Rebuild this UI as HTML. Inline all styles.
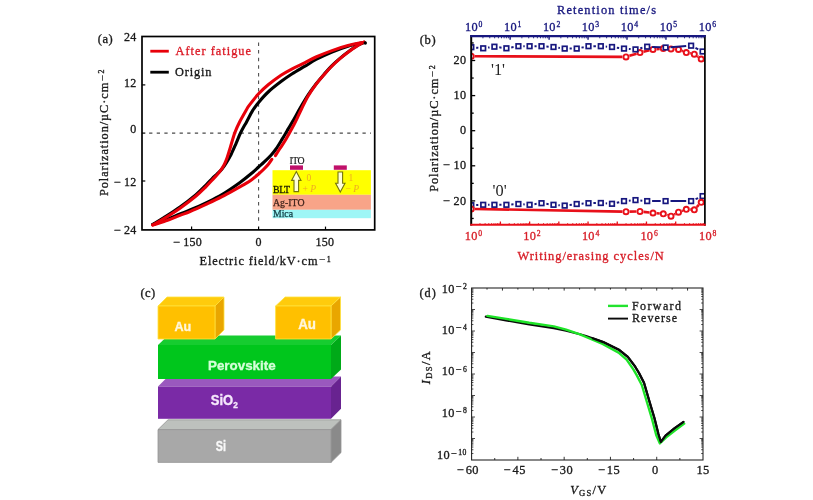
<!DOCTYPE html>
<html lang="en"><head><meta charset="utf-8"><title>Figure</title>
<style>
html,body{margin:0;padding:0;background:#fff;}
body{width:813px;height:500px;overflow:hidden;font-family:"Liberation Serif", serif;}
svg{display:block;}
text{white-space:pre;}
</style></head><body>
<svg width="813" height="500" viewBox="0 0 813 500">
<rect x="0" y="0" width="813" height="500" fill="#ffffff"/>
<line x1="258.6" y1="42.5" x2="258.6" y2="220.9" stroke="#4a4a4a" stroke-width="1.05" stroke-dasharray="3.5 4.1"/>
<line x1="149.1" y1="133.1" x2="371.0" y2="133.1" stroke="#4a4a4a" stroke-width="1.05" stroke-dasharray="3.3 4.32"/>
<rect x="272.5" y="170.2" width="98.4" height="24.6" fill="#ffff00"/>
<rect x="272.5" y="194.8" width="98.4" height="15" fill="#f8a488"/>
<rect x="272.5" y="209.8" width="98.4" height="8.4" fill="#9ef6f6"/>
<rect x="290" y="165.4" width="13" height="4.4" fill="#c0106a"/>
<rect x="333.8" y="165.4" width="13" height="4.4" fill="#c0106a"/>
<path d="M296.3,171.6 L301,180.4 L298.6,180.4 L298.6,191.6 L294,191.6 L294,180.4 L291.6,180.4 Z" fill="#ffffd8" stroke="#74740a" stroke-width="1.1"/>
<path d="M340.3,192 L345,183.2 L342.6,183.2 L342.6,172 L338,172 L338,183.2 L335.6,183.2 Z" fill="#ffffd8" stroke="#74740a" stroke-width="1.1"/>
<text x="289.5" y="163.8" font-size="9.8" fill="#1a1a1a" font-family='"Liberation Serif", serif' textLength="15" lengthAdjust="spacing" stroke="#1a1a1a" stroke-width="0.15">ITO</text>
<text x="273" y="193.0" font-size="9.8" fill="#1c1c00" font-family='"Liberation Serif", serif' textLength="17" lengthAdjust="spacing" stroke="#1c1c00" stroke-width="0.3">BLT</text>
<text x="273" y="206.0" font-size="9.8" fill="#40241c" font-family='"Liberation Serif", serif' textLength="31.5" lengthAdjust="spacing" stroke="#40241c" stroke-width="0.25">Ag-ITO</text>
<text x="273" y="216.9" font-size="9.8" fill="#123c44" font-family='"Liberation Serif", serif' textLength="20" lengthAdjust="spacing" stroke="#123c44" stroke-width="0.25">Mica</text>
<text x="306.5" y="180.5" font-size="9.5" fill="#eeaa22" font-family='"Liberation Serif", serif'>0</text>
<text x="302.5" y="192.2" font-size="9.5" fill="#eeaa22" font-family='"Liberation Serif", serif'>+</text>
<text x="310.2" y="192.2" font-size="9.5" fill="#eeaa22" font-family='"Liberation Serif", serif' font-style="italic">P</text>
<text x="348.5" y="180.5" font-size="9.5" fill="#eeaa22" font-family='"Liberation Serif", serif'>1</text>
<text x="345.5" y="192.2" font-size="9.5" fill="#eeaa22" font-family='"Liberation Serif", serif'>−</text>
<text x="353.2" y="192.2" font-size="9.5" fill="#eeaa22" font-family='"Liberation Serif", serif' font-style="italic">P</text>
<path d="M152.80,224.40 C154.67,223.27 159.47,220.50 164.00,217.60 C168.53,214.70 174.67,210.83 180.00,207.00 C185.33,203.17 191.67,198.27 196.00,194.60 C200.33,190.93 203.33,187.63 206.00,185.00 C208.67,182.37 210.17,180.63 212.00,178.80 C213.83,176.97 215.33,175.63 217.00,174.00 C218.67,172.37 220.43,170.90 222.00,169.00 C223.57,167.10 224.87,165.07 226.40,162.60 C227.93,160.13 229.60,157.37 231.20,154.20 C232.80,151.03 234.43,147.17 236.00,143.60 C237.57,140.03 238.80,136.50 240.60,132.80 C242.40,129.10 244.80,125.10 246.80,121.40 C248.80,117.70 250.63,113.77 252.60,110.60 C254.57,107.43 256.00,105.50 258.60,102.40 C261.20,99.30 264.47,95.47 268.20,92.00 C271.93,88.53 277.00,84.63 281.00,81.60 C285.00,78.57 288.20,76.37 292.20,73.80 C296.20,71.23 301.03,68.58 305.00,66.20 C308.97,63.82 311.50,61.87 316.00,59.50 C320.50,57.13 326.67,54.22 332.00,52.00 C337.33,49.78 342.67,47.80 348.00,46.20 C353.33,44.60 361.33,43.03 364.00,42.40 " stroke="#000" stroke-width="3.1" fill="none" stroke-linecap="round" stroke-linejoin="round"/>
<path d="M364.00,42.40 C362.67,43.07 358.67,44.80 356.00,46.40 C353.33,48.00 350.67,50.00 348.00,52.00 C345.33,54.00 342.67,56.13 340.00,58.40 C337.33,60.67 334.67,62.93 332.00,65.60 C329.33,68.27 326.67,71.33 324.00,74.40 C321.33,77.47 318.67,80.53 316.00,84.00 C313.33,87.47 310.67,91.13 308.00,95.20 C305.33,99.27 302.42,104.27 300.00,108.40 C297.58,112.53 295.67,116.23 293.50,120.00 C291.33,123.77 288.92,127.77 287.00,131.00 C285.08,134.23 283.83,136.40 282.00,139.40 C280.17,142.40 277.80,146.40 276.00,149.00 C274.20,151.60 273.20,152.80 271.20,155.00 C269.20,157.20 266.10,160.20 264.00,162.20 C261.90,164.20 260.60,165.20 258.60,167.00 C256.60,168.80 255.10,170.42 252.00,173.00 C248.90,175.58 245.00,178.90 240.00,182.50 C235.00,186.10 227.67,191.22 222.00,194.60 C216.33,197.98 211.33,200.23 206.00,202.80 C200.67,205.37 194.33,208.13 190.00,210.00 C185.67,211.87 184.33,212.25 180.00,214.00 C175.67,215.75 168.53,218.77 164.00,220.50 C159.47,222.23 154.67,223.75 152.80,224.40" stroke="#000" stroke-width="3.1" fill="none" stroke-linecap="round" stroke-linejoin="round"/>
<path d="M152.80,225.00 C154.67,223.93 159.47,221.40 164.00,218.60 C168.53,215.80 174.67,211.97 180.00,208.20 C185.33,204.43 191.67,199.60 196.00,196.00 C200.33,192.40 203.33,189.23 206.00,186.60 C208.67,183.97 210.33,181.97 212.00,180.20 C213.67,178.43 214.83,177.27 216.00,176.00 C217.17,174.73 217.97,173.90 219.00,172.60 C220.03,171.30 221.23,169.73 222.20,168.20 C223.17,166.67 224.00,165.10 224.80,163.40 C225.60,161.70 226.33,159.82 227.00,158.00 C227.67,156.18 228.20,154.42 228.80,152.50 C229.40,150.58 229.60,149.78 230.60,146.50 C231.60,143.22 233.30,136.88 234.80,132.80 C236.30,128.72 237.73,125.72 239.60,122.00 C241.47,118.28 244.43,113.23 246.00,110.50 C247.57,107.77 246.90,108.38 249.00,105.60 C251.10,102.82 255.40,97.27 258.60,93.80 C261.80,90.33 264.47,87.90 268.20,84.80 C271.93,81.70 277.00,77.87 281.00,75.20 C285.00,72.53 288.20,70.90 292.20,68.80 C296.20,66.70 301.03,64.57 305.00,62.60 C308.97,60.63 311.50,59.00 316.00,57.00 C320.50,55.00 326.67,52.50 332.00,50.60 C337.33,48.70 342.67,47.00 348.00,45.60 C353.33,44.20 361.33,42.77 364.00,42.20" stroke="#e8000a" stroke-width="3.1" fill="none" stroke-linecap="round" stroke-linejoin="round"/>
<path d="M364.00,42.20 C362.67,42.93 358.67,44.93 356.00,46.60 C353.33,48.27 350.67,50.20 348.00,52.20 C345.33,54.20 342.67,56.30 340.00,58.60 C337.33,60.90 334.67,63.30 332.00,66.00 C329.33,68.70 326.67,71.73 324.00,74.80 C321.33,77.87 318.67,80.83 316.00,84.40 C313.33,87.97 310.42,92.10 308.00,96.20 C305.58,100.30 303.25,105.45 301.50,109.00 C299.75,112.55 298.78,114.83 297.50,117.50 C296.22,120.17 295.18,122.35 293.80,125.00 C292.42,127.65 290.77,130.60 289.20,133.40 C287.63,136.20 286.00,139.20 284.40,141.80 C282.80,144.40 281.10,146.70 279.60,149.00 C278.10,151.30 276.10,154.50 275.40,155.60" stroke="#e8000a" stroke-width="3.1" fill="none" stroke-linecap="round"/>
<path d="M271.80,159.40 C271.27,160.17 269.90,162.40 268.60,164.00 C267.30,165.60 265.67,167.33 264.00,169.00 C262.33,170.67 260.60,172.27 258.60,174.00 C256.60,175.73 254.10,177.83 252.00,179.40 C249.90,180.97 248.33,182.00 246.00,183.40 C243.67,184.80 242.00,185.58 238.00,187.80 C234.00,190.02 227.33,193.93 222.00,196.70 C216.67,199.47 211.33,201.92 206.00,204.40 C200.67,206.88 194.33,209.77 190.00,211.60 C185.67,213.43 184.33,213.73 180.00,215.40 C175.67,217.07 168.53,220.00 164.00,221.60 C159.47,223.20 154.67,224.43 152.80,225.00" stroke="#e8000a" stroke-width="3.1" fill="none" stroke-linecap="round"/>
<circle cx="365.3" cy="43" r="1.7" fill="#000"/>
<rect x="142.0" y="36.5" width="232.7" height="193.4" fill="none" stroke="#000" stroke-width="1.7"/>
<line x1="142.0" y1="84.9" x2="145.3" y2="84.9" stroke="#000" stroke-width="1.2" />
<line x1="142.0" y1="133.1" x2="145.3" y2="133.1" stroke="#000" stroke-width="1.2" />
<line x1="142.0" y1="181.0" x2="145.3" y2="181.0" stroke="#000" stroke-width="1.2" />
<line x1="191.6" y1="229.9" x2="191.6" y2="226.6" stroke="#000" stroke-width="1.2" />
<line x1="258.6" y1="229.9" x2="258.6" y2="226.6" stroke="#000" stroke-width="1.2" />
<line x1="325.5" y1="229.9" x2="325.5" y2="226.6" stroke="#000" stroke-width="1.2" />
<text x="123.95" y="41.2" font-size="12.0" fill="#1a1a1a" font-family='"Liberation Serif", serif' stroke="#1a1a1a" stroke-width="0.32" letter-spacing="0.25">24</text>
<text x="123.95" y="87.1" font-size="12.0" fill="#1a1a1a" font-family='"Liberation Serif", serif' stroke="#1a1a1a" stroke-width="0.32" letter-spacing="0.25">12</text>
<text x="130.20" y="133.2" font-size="12.0" fill="#1a1a1a" font-family='"Liberation Serif", serif' stroke="#1a1a1a" stroke-width="0.32" letter-spacing="0.25">0</text>
<text x="113.95" y="185.7" font-size="12.0" fill="#1a1a1a" font-family='"Liberation Serif", serif' stroke="#1a1a1a" stroke-width="0.32" textLength="7.0" lengthAdjust="spacingAndGlyphs">−</text>
<text x="123.95" y="185.7" font-size="12.0" fill="#1a1a1a" font-family='"Liberation Serif", serif' stroke="#1a1a1a" stroke-width="0.32" letter-spacing="0.25">12</text>
<text x="113.95" y="234.4" font-size="12.0" fill="#1a1a1a" font-family='"Liberation Serif", serif' stroke="#1a1a1a" stroke-width="0.32" textLength="7.0" lengthAdjust="spacingAndGlyphs">−</text>
<text x="123.95" y="234.4" font-size="12.0" fill="#1a1a1a" font-family='"Liberation Serif", serif' stroke="#1a1a1a" stroke-width="0.32" letter-spacing="0.25">24</text>
<text x="173.25" y="245.5" font-size="12.0" fill="#1a1a1a" font-family='"Liberation Serif", serif' stroke="#1a1a1a" stroke-width="0.32" textLength="7.0" lengthAdjust="spacingAndGlyphs">−</text>
<text x="183.25" y="245.5" font-size="12.0" fill="#1a1a1a" font-family='"Liberation Serif", serif' stroke="#1a1a1a" stroke-width="0.32" letter-spacing="0.25">150</text>
<text x="255.40" y="245.5" font-size="12.0" fill="#1a1a1a" font-family='"Liberation Serif", serif' stroke="#1a1a1a" stroke-width="0.32" letter-spacing="0.25">0</text>
<text x="315.45" y="245.5" font-size="12.0" fill="#1a1a1a" font-family='"Liberation Serif", serif' stroke="#1a1a1a" stroke-width="0.32" letter-spacing="0.25">150</text>
<line x1="150.3" y1="51.2" x2="168.8" y2="51.2" stroke="#e8000a" stroke-width="2.8" />
<line x1="150.3" y1="72.2" x2="168.8" y2="72.2" stroke="#000" stroke-width="2.8" />
<text x="175.5" y="54.8" font-size="12.3" fill="#dc1c28" font-family='"Liberation Serif", serif' textLength="75.5" lengthAdjust="spacing" stroke="#dc1c28" stroke-width="0.32">After fatigue</text>
<text x="175.0" y="75.6" font-size="12.3" fill="#1a1a1a" font-family='"Liberation Serif", serif' textLength="36.3" lengthAdjust="spacing" stroke="#1a1a1a" stroke-width="0.32">Origin</text>
<text x="97.7" y="43.2" font-size="12.6" fill="#1a1a1a" font-family='"Liberation Serif", serif' textLength="15" lengthAdjust="spacing" stroke="#1a1a1a" stroke-width="0.32">(a)</text>
<g transform="translate(199.5 265.0)">
<text x="0" y="0" font-size="12.3" fill="#1a1a1a" font-family='"Liberation Serif", serif' stroke="#1a1a1a" stroke-width="0.32" textLength="118.0" lengthAdjust="spacing">Electric field/kV·cm</text>
<text x="119.70" y="-3.20" font-size="7.9" fill="#1a1a1a" font-family='"Liberation Serif", serif' stroke="#1a1a1a" stroke-width="0.32" textLength="6.0" lengthAdjust="spacingAndGlyphs">−</text>
<text x="127.30" y="-3.5" font-size="7.9" fill="#1a1a1a" font-family='"Liberation Serif", serif' stroke="#1a1a1a" stroke-width="0.32">1</text>
</g>
<g transform="translate(107.9 196) rotate(-90)">
<text x="0" y="0" font-size="12.3" fill="#1a1a1a" font-family='"Liberation Serif", serif' stroke="#1a1a1a" stroke-width="0.32" textLength="113.3" lengthAdjust="spacing">Polarization/µC·cm</text>
<text x="115.00" y="-3.20" font-size="7.9" fill="#1a1a1a" font-family='"Liberation Serif", serif' stroke="#1a1a1a" stroke-width="0.32" textLength="6.0" lengthAdjust="spacingAndGlyphs">−</text>
<text x="122.60" y="-3.5" font-size="7.9" fill="#1a1a1a" font-family='"Liberation Serif", serif' stroke="#1a1a1a" stroke-width="0.32">2</text>
</g>
<clipPath id="clipb"><rect x="471.2" y="34.1" width="233.7" height="192.70000000000002"/></clipPath>
<g clip-path="url(#clipb)">
<line x1="474.9" y1="56.22" x2="622.4" y2="56.88" stroke="#e8101a" stroke-width="2.6" />
<line x1="629.44" y1="55.84" x2="636.56" y2="53.66" stroke="#e8101a" stroke-width="2.6" />
<line x1="643.5" y1="51.74" x2="649.5" y2="50.26" stroke="#e8101a" stroke-width="2.6" />
<line x1="656.59" y1="49.12" x2="659.71" y2="48.88" stroke="#e8101a" stroke-width="2.6" />
<line x1="666.9" y1="48.74" x2="667.4" y2="48.76" stroke="#e8101a" stroke-width="2.6" />
<line x1="674.59" y1="49.14" x2="674.91" y2="49.16" stroke="#e8101a" stroke-width="2.6" />
<line x1="681.83" y1="50.77" x2="682.97" y2="51.23" stroke="#e8101a" stroke-width="2.6" />
<line x1="689.83" y1="53.31" x2="690.77" y2="53.49" stroke="#e8101a" stroke-width="2.6" />
<line x1="697.26" y1="56.26" x2="698.24" y2="56.94" stroke="#e8101a" stroke-width="2.6" />
<circle cx="471.30" cy="56.20" r="2.55" fill="#fff" stroke="#e8101a" stroke-width="1.9"/>
<circle cx="626.00" cy="56.90" r="2.55" fill="#fff" stroke="#e8101a" stroke-width="1.9"/>
<circle cx="640.00" cy="52.60" r="2.55" fill="#fff" stroke="#e8101a" stroke-width="1.9"/>
<circle cx="653.00" cy="49.40" r="2.55" fill="#fff" stroke="#e8101a" stroke-width="1.9"/>
<circle cx="663.30" cy="48.60" r="2.55" fill="#fff" stroke="#e8101a" stroke-width="1.9"/>
<circle cx="671.00" cy="48.90" r="2.55" fill="#fff" stroke="#e8101a" stroke-width="1.9"/>
<circle cx="678.50" cy="49.40" r="2.55" fill="#fff" stroke="#e8101a" stroke-width="1.9"/>
<circle cx="686.30" cy="52.60" r="2.55" fill="#fff" stroke="#e8101a" stroke-width="1.9"/>
<circle cx="694.30" cy="54.20" r="2.55" fill="#fff" stroke="#e8101a" stroke-width="1.9"/>
<circle cx="701.20" cy="59.00" r="2.55" fill="#fff" stroke="#e8101a" stroke-width="1.9"/>
<line x1="476.18" y1="47.65" x2="478.32" y2="47.85" stroke="#17177f" stroke-width="2.0" />
<line x1="488.05" y1="47.61" x2="489.55" y2="47.39" stroke="#17177f" stroke-width="2.0" />
<line x1="499.26" y1="47.35" x2="501.54" y2="47.65" stroke="#17177f" stroke-width="2.0" />
<line x1="511.23" y1="47.46" x2="513.57" y2="47.04" stroke="#17177f" stroke-width="2.0" />
<line x1="523.3" y1="46.2" x2="524.7" y2="46.2" stroke="#17177f" stroke-width="2.0" />
<line x1="534.5" y1="46.2" x2="536.6" y2="46.2" stroke="#17177f" stroke-width="2.0" />
<line x1="546.39" y1="46.53" x2="548.61" y2="46.67" stroke="#17177f" stroke-width="2.0" />
<line x1="558.35" y1="47.69" x2="559.85" y2="47.91" stroke="#17177f" stroke-width="2.0" />
<line x1="569.6" y1="48.6" x2="571.8" y2="48.6" stroke="#17177f" stroke-width="2.0" />
<line x1="581.5" y1="47.62" x2="583.7" y2="47.18" stroke="#17177f" stroke-width="2.0" />
<line x1="593.4" y1="46.2" x2="595.9" y2="46.2" stroke="#17177f" stroke-width="2.0" />
<line x1="605.69" y1="46.55" x2="607.11" y2="46.65" stroke="#17177f" stroke-width="2.0" />
<line x1="616.86" y1="47.65" x2="619.14" y2="47.95" stroke="#17177f" stroke-width="2.0" />
<line x1="628.89" y1="48.94" x2="630.61" y2="49.06" stroke="#17177f" stroke-width="2.0" />
<line x1="640.27" y1="48.3" x2="642.43" y2="47.8" stroke="#17177f" stroke-width="2.0" />
<line x1="652.1" y1="46.91" x2="660.7" y2="47.29" stroke="#17177f" stroke-width="2.0" />
<line x1="670.49" y1="47.15" x2="686.21" y2="46.05" stroke="#17177f" stroke-width="2.0" />
<line x1="695.48" y1="47.91" x2="698.22" y2="49.29" stroke="#17177f" stroke-width="2.0" />
<rect x="469.00" y="44.90" width="4.6" height="4.6" fill="#fff" stroke="#17177f" stroke-width="1.7"/>
<rect x="480.90" y="46.00" width="4.6" height="4.6" fill="#fff" stroke="#17177f" stroke-width="1.7"/>
<rect x="492.10" y="44.40" width="4.6" height="4.6" fill="#fff" stroke="#17177f" stroke-width="1.7"/>
<rect x="504.10" y="46.00" width="4.6" height="4.6" fill="#fff" stroke="#17177f" stroke-width="1.7"/>
<rect x="516.10" y="43.90" width="4.6" height="4.6" fill="#fff" stroke="#17177f" stroke-width="1.7"/>
<rect x="527.30" y="43.90" width="4.6" height="4.6" fill="#fff" stroke="#17177f" stroke-width="1.7"/>
<rect x="539.20" y="43.90" width="4.6" height="4.6" fill="#fff" stroke="#17177f" stroke-width="1.7"/>
<rect x="551.20" y="44.70" width="4.6" height="4.6" fill="#fff" stroke="#17177f" stroke-width="1.7"/>
<rect x="562.40" y="46.30" width="4.6" height="4.6" fill="#fff" stroke="#17177f" stroke-width="1.7"/>
<rect x="574.40" y="46.30" width="4.6" height="4.6" fill="#fff" stroke="#17177f" stroke-width="1.7"/>
<rect x="586.20" y="43.90" width="4.6" height="4.6" fill="#fff" stroke="#17177f" stroke-width="1.7"/>
<rect x="598.50" y="43.90" width="4.6" height="4.6" fill="#fff" stroke="#17177f" stroke-width="1.7"/>
<rect x="609.70" y="44.70" width="4.6" height="4.6" fill="#fff" stroke="#17177f" stroke-width="1.7"/>
<rect x="621.70" y="46.30" width="4.6" height="4.6" fill="#fff" stroke="#17177f" stroke-width="1.7"/>
<rect x="633.20" y="47.10" width="4.6" height="4.6" fill="#fff" stroke="#17177f" stroke-width="1.7"/>
<rect x="644.90" y="44.40" width="4.6" height="4.6" fill="#fff" stroke="#17177f" stroke-width="1.7"/>
<rect x="663.30" y="45.20" width="4.6" height="4.6" fill="#fff" stroke="#17177f" stroke-width="1.7"/>
<rect x="688.80" y="43.40" width="4.6" height="4.6" fill="#fff" stroke="#17177f" stroke-width="1.7"/>
<rect x="700.30" y="49.20" width="4.6" height="4.6" fill="#fff" stroke="#17177f" stroke-width="1.7"/>
<line x1="476.2" y1="205.04" x2="478.3" y2="204.96" stroke="#17177f" stroke-width="2.0" />
<line x1="488.1" y1="204.8" x2="489.5" y2="204.8" stroke="#17177f" stroke-width="2.0" />
<line x1="499.3" y1="204.8" x2="501.5" y2="204.8" stroke="#17177f" stroke-width="2.0" />
<line x1="511.29" y1="204.47" x2="513.51" y2="204.33" stroke="#17177f" stroke-width="2.0" />
<line x1="523.29" y1="204.35" x2="524.71" y2="204.45" stroke="#17177f" stroke-width="2.0" />
<line x1="534.46" y1="204.15" x2="536.64" y2="203.85" stroke="#17177f" stroke-width="2.0" />
<line x1="546.36" y1="203.85" x2="548.64" y2="204.15" stroke="#17177f" stroke-width="2.0" />
<line x1="558.39" y1="205.15" x2="559.81" y2="205.25" stroke="#17177f" stroke-width="2.0" />
<line x1="569.56" y1="204.95" x2="571.84" y2="204.65" stroke="#17177f" stroke-width="2.0" />
<line x1="581.59" y1="203.67" x2="583.61" y2="203.53" stroke="#17177f" stroke-width="2.0" />
<line x1="593.4" y1="203.12" x2="595.9" y2="203.08" stroke="#17177f" stroke-width="2.0" />
<line x1="605.69" y1="203.35" x2="607.11" y2="203.45" stroke="#17177f" stroke-width="2.0" />
<line x1="616.78" y1="202.72" x2="619.22" y2="202.18" stroke="#17177f" stroke-width="2.0" />
<line x1="628.88" y1="200.68" x2="630.62" y2="200.52" stroke="#17177f" stroke-width="2.0" />
<line x1="640.38" y1="200.52" x2="642.32" y2="200.68" stroke="#17177f" stroke-width="2.0" />
<line x1="652.1" y1="201.1" x2="660.7" y2="201.1" stroke="#17177f" stroke-width="2.0" />
<line x1="670.5" y1="201.1" x2="686.2" y2="201.1" stroke="#17177f" stroke-width="2.0" />
<line x1="695.59" y1="199.15" x2="698.11" y2="198.05" stroke="#17177f" stroke-width="2.0" />
<rect x="469.00" y="202.90" width="4.6" height="4.6" fill="#fff" stroke="#17177f" stroke-width="1.7"/>
<rect x="480.90" y="202.50" width="4.6" height="4.6" fill="#fff" stroke="#17177f" stroke-width="1.7"/>
<rect x="492.10" y="202.50" width="4.6" height="4.6" fill="#fff" stroke="#17177f" stroke-width="1.7"/>
<rect x="504.10" y="202.50" width="4.6" height="4.6" fill="#fff" stroke="#17177f" stroke-width="1.7"/>
<rect x="516.10" y="201.70" width="4.6" height="4.6" fill="#fff" stroke="#17177f" stroke-width="1.7"/>
<rect x="527.30" y="202.50" width="4.6" height="4.6" fill="#fff" stroke="#17177f" stroke-width="1.7"/>
<rect x="539.20" y="200.90" width="4.6" height="4.6" fill="#fff" stroke="#17177f" stroke-width="1.7"/>
<rect x="551.20" y="202.50" width="4.6" height="4.6" fill="#fff" stroke="#17177f" stroke-width="1.7"/>
<rect x="562.40" y="203.30" width="4.6" height="4.6" fill="#fff" stroke="#17177f" stroke-width="1.7"/>
<rect x="574.40" y="201.70" width="4.6" height="4.6" fill="#fff" stroke="#17177f" stroke-width="1.7"/>
<rect x="586.20" y="200.90" width="4.6" height="4.6" fill="#fff" stroke="#17177f" stroke-width="1.7"/>
<rect x="598.50" y="200.70" width="4.6" height="4.6" fill="#fff" stroke="#17177f" stroke-width="1.7"/>
<rect x="609.70" y="201.50" width="4.6" height="4.6" fill="#fff" stroke="#17177f" stroke-width="1.7"/>
<rect x="621.70" y="198.80" width="4.6" height="4.6" fill="#fff" stroke="#17177f" stroke-width="1.7"/>
<rect x="633.20" y="197.80" width="4.6" height="4.6" fill="#fff" stroke="#17177f" stroke-width="1.7"/>
<rect x="644.90" y="198.80" width="4.6" height="4.6" fill="#fff" stroke="#17177f" stroke-width="1.7"/>
<rect x="663.30" y="198.80" width="4.6" height="4.6" fill="#fff" stroke="#17177f" stroke-width="1.7"/>
<rect x="688.80" y="198.80" width="4.6" height="4.6" fill="#fff" stroke="#17177f" stroke-width="1.7"/>
<rect x="700.30" y="193.80" width="4.6" height="4.6" fill="#fff" stroke="#17177f" stroke-width="1.7"/>
<line x1="474.9" y1="208.97" x2="622.4" y2="211.63" stroke="#e8101a" stroke-width="2.6" />
<line x1="629.6" y1="211.62" x2="636.4" y2="211.48" stroke="#e8101a" stroke-width="2.6" />
<line x1="643.57" y1="211.84" x2="649.43" y2="212.56" stroke="#e8101a" stroke-width="2.6" />
<line x1="656.59" y1="213.28" x2="659.71" y2="213.52" stroke="#e8101a" stroke-width="2.6" />
<line x1="666.74" y1="214.87" x2="667.56" y2="215.13" stroke="#e8101a" stroke-width="2.6" />
<line x1="674.18" y1="214.51" x2="675.32" y2="213.89" stroke="#e8101a" stroke-width="2.6" />
<line x1="681.87" y1="210.95" x2="682.93" y2="210.55" stroke="#e8101a" stroke-width="2.6" />
<line x1="689.89" y1="209.52" x2="690.71" y2="209.58" stroke="#e8101a" stroke-width="2.6" />
<line x1="696.74" y1="207.15" x2="698.76" y2="204.95" stroke="#e8101a" stroke-width="2.6" />
<circle cx="471.30" cy="208.90" r="2.55" fill="#fff" stroke="#e8101a" stroke-width="1.9"/>
<circle cx="626.00" cy="211.70" r="2.55" fill="#fff" stroke="#e8101a" stroke-width="1.9"/>
<circle cx="640.00" cy="211.40" r="2.55" fill="#fff" stroke="#e8101a" stroke-width="1.9"/>
<circle cx="653.00" cy="213.00" r="2.55" fill="#fff" stroke="#e8101a" stroke-width="1.9"/>
<circle cx="663.30" cy="213.80" r="2.55" fill="#fff" stroke="#e8101a" stroke-width="1.9"/>
<circle cx="671.00" cy="216.20" r="2.55" fill="#fff" stroke="#e8101a" stroke-width="1.9"/>
<circle cx="678.50" cy="212.20" r="2.55" fill="#fff" stroke="#e8101a" stroke-width="1.9"/>
<circle cx="686.30" cy="209.30" r="2.55" fill="#fff" stroke="#e8101a" stroke-width="1.9"/>
<circle cx="694.30" cy="209.80" r="2.55" fill="#fff" stroke="#e8101a" stroke-width="1.9"/>
<circle cx="701.20" cy="202.30" r="2.55" fill="#fff" stroke="#e8101a" stroke-width="1.9"/>
</g>
<line x1="471.2" y1="35.1" x2="471.2" y2="225.60000000000002" stroke="#000" stroke-width="2.0" />
<line x1="704.9" y1="35.1" x2="704.9" y2="225.8" stroke="#000" stroke-width="1.7" />
<line x1="470.2" y1="36.1" x2="705.6999999999999" y2="36.1" stroke="#17177f" stroke-width="2.2" />
<line x1="470.2" y1="224.8" x2="705.8" y2="224.8" stroke="#e8101a" stroke-width="2.0" />
<line x1="471.2" y1="218.45" x2="473.7" y2="218.45" stroke="#000" stroke-width="1.3" />
<line x1="471.2" y1="200.9" x2="475.2" y2="200.9" stroke="#000" stroke-width="1.3" />
<line x1="471.2" y1="183.35" x2="473.7" y2="183.35" stroke="#000" stroke-width="1.3" />
<line x1="471.2" y1="165.8" x2="475.2" y2="165.8" stroke="#000" stroke-width="1.3" />
<line x1="471.2" y1="148.25" x2="473.7" y2="148.25" stroke="#000" stroke-width="1.3" />
<line x1="471.2" y1="130.7" x2="475.2" y2="130.7" stroke="#000" stroke-width="1.3" />
<line x1="471.2" y1="113.15" x2="473.7" y2="113.15" stroke="#000" stroke-width="1.3" />
<line x1="471.2" y1="95.6" x2="475.2" y2="95.6" stroke="#000" stroke-width="1.3" />
<line x1="471.2" y1="78.05" x2="473.7" y2="78.05" stroke="#000" stroke-width="1.3" />
<line x1="471.2" y1="60.5" x2="475.2" y2="60.5" stroke="#000" stroke-width="1.3" />
<line x1="471.2" y1="42.95" x2="473.7" y2="42.95" stroke="#000" stroke-width="1.3" />
<path d="M510.15,36.1v3.6M549.1,36.1v3.6M588.05,36.1v3.6M627.0,36.1v3.6M665.95,36.1v3.6" stroke="#17177f" stroke-width="1.4" fill="none"/>
<path d="M482.93,36.1v2.2M489.78,36.1v2.2M494.65,36.1v2.2M498.42,36.1v2.2M501.51,36.1v2.2M504.12,36.1v2.2M506.38,36.1v2.2M508.37,36.1v2.2M521.88,36.1v2.2M528.73,36.1v2.2M533.6,36.1v2.2M537.37,36.1v2.2M540.46,36.1v2.2M543.07,36.1v2.2M545.33,36.1v2.2M547.32,36.1v2.2M560.83,36.1v2.2M567.68,36.1v2.2M572.55,36.1v2.2M576.32,36.1v2.2M579.41,36.1v2.2M582.02,36.1v2.2M584.28,36.1v2.2M586.27,36.1v2.2M599.78,36.1v2.2M606.63,36.1v2.2M611.5,36.1v2.2M615.27,36.1v2.2M618.36,36.1v2.2M620.97,36.1v2.2M623.23,36.1v2.2M625.22,36.1v2.2M638.73,36.1v2.2M645.58,36.1v2.2M650.45,36.1v2.2M654.22,36.1v2.2M657.31,36.1v2.2M659.92,36.1v2.2M662.18,36.1v2.2M664.17,36.1v2.2M677.68,36.1v2.2M684.53,36.1v2.2M689.4,36.1v2.2M693.17,36.1v2.2M696.26,36.1v2.2M698.87,36.1v2.2M701.13,36.1v2.2M703.12,36.1v2.2" stroke="#17177f" stroke-width="0.9" fill="none"/>
<path d="M500.41,224.8v-3.3M529.62,224.8v-3.3M558.84,224.8v-3.3M588.05,224.8v-3.3M617.26,224.8v-3.3M646.47,224.8v-3.3M675.69,224.8v-3.3" stroke="#e8101a" stroke-width="1.3" fill="none"/>
<path d="M479.99,224.8v-1.8M485.14,224.8v-1.8M488.79,224.8v-1.8M491.62,224.8v-1.8M493.93,224.8v-1.8M495.89,224.8v-1.8M497.58,224.8v-1.8M499.08,224.8v-1.8M509.21,224.8v-1.8M514.35,224.8v-1.8M518.0,224.8v-1.8M520.83,224.8v-1.8M523.14,224.8v-1.8M525.1,224.8v-1.8M526.79,224.8v-1.8M528.29,224.8v-1.8M538.42,224.8v-1.8M543.56,224.8v-1.8M547.21,224.8v-1.8M550.04,224.8v-1.8M552.36,224.8v-1.8M554.31,224.8v-1.8M556.01,224.8v-1.8M557.5,224.8v-1.8M567.63,224.8v-1.8M572.78,224.8v-1.8M576.43,224.8v-1.8M579.26,224.8v-1.8M581.57,224.8v-1.8M583.52,224.8v-1.8M585.22,224.8v-1.8M586.71,224.8v-1.8M596.84,224.8v-1.8M601.99,224.8v-1.8M605.64,224.8v-1.8M608.47,224.8v-1.8M610.78,224.8v-1.8M612.74,224.8v-1.8M614.43,224.8v-1.8M615.93,224.8v-1.8M626.06,224.8v-1.8M631.2,224.8v-1.8M634.85,224.8v-1.8M637.68,224.8v-1.8M639.99,224.8v-1.8M641.95,224.8v-1.8M643.64,224.8v-1.8M645.14,224.8v-1.8M655.27,224.8v-1.8M660.41,224.8v-1.8M664.06,224.8v-1.8M666.89,224.8v-1.8M669.21,224.8v-1.8M671.16,224.8v-1.8M672.86,224.8v-1.8M674.35,224.8v-1.8M684.48,224.8v-1.8M689.63,224.8v-1.8M693.28,224.8v-1.8M696.11,224.8v-1.8M698.42,224.8v-1.8M700.37,224.8v-1.8M702.07,224.8v-1.8M703.56,224.8v-1.8" stroke="#e8101a" stroke-width="0.8" fill="none"/>
<text x="465.00" y="31.2" font-size="12.3" fill="#17177f" font-family='"Liberation Serif", serif' stroke="#17177f" stroke-width="0.32" letter-spacing="0.3">10</text>
<text x="478.50" y="27.30" font-size="7.7" fill="#17177f" font-family='"Liberation Serif", serif' stroke="#17177f" stroke-width="0.32" letter-spacing="0.5">0</text>
<text x="503.95" y="31.2" font-size="12.3" fill="#17177f" font-family='"Liberation Serif", serif' stroke="#17177f" stroke-width="0.32" letter-spacing="0.3">10</text>
<text x="517.45" y="27.30" font-size="7.7" fill="#17177f" font-family='"Liberation Serif", serif' stroke="#17177f" stroke-width="0.32" letter-spacing="0.5">1</text>
<text x="542.90" y="31.2" font-size="12.3" fill="#17177f" font-family='"Liberation Serif", serif' stroke="#17177f" stroke-width="0.32" letter-spacing="0.3">10</text>
<text x="556.40" y="27.30" font-size="7.7" fill="#17177f" font-family='"Liberation Serif", serif' stroke="#17177f" stroke-width="0.32" letter-spacing="0.5">2</text>
<text x="581.85" y="31.2" font-size="12.3" fill="#17177f" font-family='"Liberation Serif", serif' stroke="#17177f" stroke-width="0.32" letter-spacing="0.3">10</text>
<text x="595.35" y="27.30" font-size="7.7" fill="#17177f" font-family='"Liberation Serif", serif' stroke="#17177f" stroke-width="0.32" letter-spacing="0.5">3</text>
<text x="620.80" y="31.2" font-size="12.3" fill="#17177f" font-family='"Liberation Serif", serif' stroke="#17177f" stroke-width="0.32" letter-spacing="0.3">10</text>
<text x="634.30" y="27.30" font-size="7.7" fill="#17177f" font-family='"Liberation Serif", serif' stroke="#17177f" stroke-width="0.32" letter-spacing="0.5">4</text>
<text x="659.75" y="31.2" font-size="12.3" fill="#17177f" font-family='"Liberation Serif", serif' stroke="#17177f" stroke-width="0.32" letter-spacing="0.3">10</text>
<text x="673.25" y="27.30" font-size="7.7" fill="#17177f" font-family='"Liberation Serif", serif' stroke="#17177f" stroke-width="0.32" letter-spacing="0.5">5</text>
<text x="698.70" y="31.2" font-size="12.3" fill="#17177f" font-family='"Liberation Serif", serif' stroke="#17177f" stroke-width="0.32" letter-spacing="0.3">10</text>
<text x="712.20" y="27.30" font-size="7.7" fill="#17177f" font-family='"Liberation Serif", serif' stroke="#17177f" stroke-width="0.32" letter-spacing="0.5">6</text>
<text x="464.80" y="239.9" font-size="12.3" fill="#d8202a" font-family='"Liberation Serif", serif' stroke="#d8202a" stroke-width="0.32" letter-spacing="0.3">10</text>
<text x="478.30" y="236.00" font-size="7.7" fill="#d8202a" font-family='"Liberation Serif", serif' stroke="#d8202a" stroke-width="0.32" letter-spacing="0.5">0</text>
<text x="523.34" y="239.9" font-size="12.3" fill="#d8202a" font-family='"Liberation Serif", serif' stroke="#d8202a" stroke-width="0.32" letter-spacing="0.3">10</text>
<text x="536.84" y="236.00" font-size="7.7" fill="#d8202a" font-family='"Liberation Serif", serif' stroke="#d8202a" stroke-width="0.32" letter-spacing="0.5">2</text>
<text x="581.88" y="239.9" font-size="12.3" fill="#d8202a" font-family='"Liberation Serif", serif' stroke="#d8202a" stroke-width="0.32" letter-spacing="0.3">10</text>
<text x="595.38" y="236.00" font-size="7.7" fill="#d8202a" font-family='"Liberation Serif", serif' stroke="#d8202a" stroke-width="0.32" letter-spacing="0.5">4</text>
<text x="640.42" y="239.9" font-size="12.3" fill="#d8202a" font-family='"Liberation Serif", serif' stroke="#d8202a" stroke-width="0.32" letter-spacing="0.3">10</text>
<text x="653.92" y="236.00" font-size="7.7" fill="#d8202a" font-family='"Liberation Serif", serif' stroke="#d8202a" stroke-width="0.32" letter-spacing="0.5">6</text>
<text x="698.96" y="239.9" font-size="12.3" fill="#d8202a" font-family='"Liberation Serif", serif' stroke="#d8202a" stroke-width="0.32" letter-spacing="0.3">10</text>
<text x="712.46" y="236.00" font-size="7.7" fill="#d8202a" font-family='"Liberation Serif", serif' stroke="#d8202a" stroke-width="0.32" letter-spacing="0.5">8</text>
<text x="453.55" y="64.1" font-size="12.2" fill="#1a1a1a" font-family='"Liberation Serif", serif' stroke="#1a1a1a" stroke-width="0.32" letter-spacing="0.25">20</text>
<text x="453.55" y="99.2" font-size="12.2" fill="#1a1a1a" font-family='"Liberation Serif", serif' stroke="#1a1a1a" stroke-width="0.32" letter-spacing="0.25">10</text>
<text x="459.90" y="134.3" font-size="12.2" fill="#1a1a1a" font-family='"Liberation Serif", serif' stroke="#1a1a1a" stroke-width="0.32" letter-spacing="0.25">0</text>
<text x="443.25" y="169.4" font-size="12.2" fill="#1a1a1a" font-family='"Liberation Serif", serif' stroke="#1a1a1a" stroke-width="0.32" textLength="7.0" lengthAdjust="spacingAndGlyphs">−</text>
<text x="453.55" y="169.4" font-size="12.2" fill="#1a1a1a" font-family='"Liberation Serif", serif' stroke="#1a1a1a" stroke-width="0.32" letter-spacing="0.25">10</text>
<text x="443.25" y="204.5" font-size="12.2" fill="#1a1a1a" font-family='"Liberation Serif", serif' stroke="#1a1a1a" stroke-width="0.32" textLength="7.0" lengthAdjust="spacingAndGlyphs">−</text>
<text x="453.55" y="204.5" font-size="12.2" fill="#1a1a1a" font-family='"Liberation Serif", serif' stroke="#1a1a1a" stroke-width="0.32" letter-spacing="0.25">20</text>
<text x="557" y="14.2" font-size="12.4" fill="#17177f" font-family='"Liberation Serif", serif' textLength="99" lengthAdjust="spacing" stroke="#17177f" stroke-width="0.32">Retention time/s</text>
<text x="517.5" y="259.7" font-size="12.4" fill="#d8202a" font-family='"Liberation Serif", serif' textLength="146.3" lengthAdjust="spacing" stroke="#d8202a" stroke-width="0.32">Writing/erasing cycles/N</text>
<text x="419.7" y="43.6" font-size="12.6" fill="#1a1a1a" font-family='"Liberation Serif", serif' textLength="16" lengthAdjust="spacing" stroke="#1a1a1a" stroke-width="0.32">(b)</text>
<g transform="translate(438.3 191.8) rotate(-90)">
<text x="0" y="0" font-size="12.3" fill="#1a1a1a" font-family='"Liberation Serif", serif' stroke="#1a1a1a" stroke-width="0.32" textLength="113.2" lengthAdjust="spacing">Polarization/µC·cm</text>
<text x="114.90" y="-3.20" font-size="7.9" fill="#1a1a1a" font-family='"Liberation Serif", serif' stroke="#1a1a1a" stroke-width="0.32" textLength="6.0" lengthAdjust="spacingAndGlyphs">−</text>
<text x="122.50" y="-3.5" font-size="7.9" fill="#1a1a1a" font-family='"Liberation Serif", serif' stroke="#1a1a1a" stroke-width="0.32">2</text>
</g>
<text x="491" y="74.6" font-size="16.3" fill="#222" font-family='"Liberation Serif", serif'>'1'</text>
<text x="492.6" y="196.3" font-size="16.3" fill="#222" font-family='"Liberation Serif", serif'>'0'</text>
<path d="M158,429.6 L168,419.8 L341,419.8 L331,429.6 Z" fill="#bdc1bd" stroke="#959595" stroke-width="0.8" stroke-linejoin="round"/>
<path d="M331,429.6 L341,419.8 L341,452.59999999999997 L331,462.4 Z" fill="#8a8a8a" stroke="#959595" stroke-width="0.8" stroke-linejoin="round"/>
<rect x="158" y="429.6" width="173" height="32.799999999999955" fill="#a8a8a8" stroke="#959595" stroke-width="0.8" stroke-linejoin="round"/>
<path d="M158,386.5 L168,376.5 L341,376.5 L331,386.5 Z" fill="#9a58be"/>
<path d="M331,386.5 L341,376.5 L341,408.8 L331,418.8 Z" fill="#682390"/>
<rect x="158" y="386.5" width="173" height="32.30000000000001" fill="#7a2aa6"/>
<path d="M158,345 L168,335.5 L341,335.5 L331,345 Z" fill="#16cc30"/>
<path d="M331,345 L341,335.5 L341,369.5 L331,379 Z" fill="#00aa18"/>
<rect x="158" y="345" width="173" height="34" fill="#00c61c"/>
<path d="M158,306 L167,297 L224,297 L215,306 Z" fill="#ffcb0c" stroke="#ffe23c" stroke-width="0.8" stroke-linejoin="round"/>
<path d="M215,306 L224,297 L224,330 L215,339 Z" fill="#e9a600" stroke="#ffe23c" stroke-width="0.8" stroke-linejoin="round"/>
<rect x="158" y="306" width="57" height="33" fill="#ffc000" stroke="#ffe23c" stroke-width="0.8" stroke-linejoin="round"/>
<path d="M275.6,306 L285.1,297 L340.5,297 L331,306 Z" fill="#ffcb0c" stroke="#ffe23c" stroke-width="0.8" stroke-linejoin="round"/>
<path d="M331,306 L340.5,297 L340.5,330 L331,339 Z" fill="#e9a600" stroke="#ffe23c" stroke-width="0.8" stroke-linejoin="round"/>
<rect x="275.6" y="306" width="55.39999999999998" height="33" fill="#ffc000" stroke="#ffe23c" stroke-width="0.8" stroke-linejoin="round"/>
<text x="174.5" y="330.9" font-size="13.4" fill="#fff6dc" font-family='"Liberation Sans", sans-serif' textLength="16.8" lengthAdjust="spacingAndGlyphs" font-weight="bold" stroke="#fff6dc" stroke-width="0.35">Au</text>
<text x="298.2" y="329.2" font-size="13.8" fill="#fff6dc" font-family='"Liberation Sans", sans-serif' textLength="17.8" lengthAdjust="spacingAndGlyphs" font-weight="bold" stroke="#fff6dc" stroke-width="0.35">Au</text>
<text x="208" y="369.8" font-size="13.6" fill="#d4ffd8" font-family='"Liberation Sans", sans-serif' textLength="67.6" lengthAdjust="spacingAndGlyphs" font-weight="bold" stroke="#d4ffd8" stroke-width="0.35">Perovskite</text>
<text x="210.8" y="405.3" font-size="14.3" fill="#f6e8fc" font-family='"Liberation Sans", sans-serif' textLength="27" lengthAdjust="spacingAndGlyphs" font-weight="bold" stroke="#f6e8fc" stroke-width="0.35">SiO<tspan dy="3" font-size="9">2</tspan></text>
<text x="215.8" y="450.8" font-size="14.2" fill="#f8f8f8" font-family='"Liberation Sans", sans-serif' textLength="10.2" lengthAdjust="spacingAndGlyphs" font-weight="bold" stroke="#f8f8f8" stroke-width="0.35">Si</text>
<text x="140.6" y="297" font-size="12.6" fill="#1a1a1a" font-family='"Liberation Serif", serif' textLength="14.6" lengthAdjust="spacing" stroke="#1a1a1a" stroke-width="0.32">(c)</text>
<path d="M485.80,316.60 L504.60,320.10 L529.20,324.50 L553.80,328.10 L566.10,330.70 L580.00,334.30 L586.00,336.00 L603.20,342.10 L619.40,350.10 L627.80,356.90 L635.20,366.70 L639.00,373.00 L644.00,382.80 L649.60,402.00 L654.40,418.00 L658.40,434.00 L660.80,442.00 L665.60,435.60 L674.40,428.40 L683.60,421.80" stroke="#0a0a0a" stroke-width="2.2" fill="none" stroke-linejoin="round" stroke-linecap="round"/>
<path d="M487.40,315.90 L504.60,318.60 L529.20,322.80 L553.80,326.40 L566.10,329.60 L580.00,334.40 L586.00,337.00 L602.60,344.00 L618.60,352.60 L626.60,359.60 L633.50,369.60 L636.80,375.40 L641.80,385.00 L647.20,403.00 L652.00,419.00 L656.20,435.00 L659.80,443.40 L666.20,437.40 L675.20,430.40 L684.20,423.60" stroke="#1ee428" stroke-width="2.4" fill="none" stroke-linejoin="round" stroke-linecap="round"/>
<path d="M592.00,338.00 L603.20,342.10 L619.40,350.10 L627.80,356.90 L635.20,366.70 L639.00,373.00 L644.00,382.80 L649.60,402.00 L654.40,418.00 L658.40,434.00 L660.80,442.00 L665.60,435.60 L674.40,428.40 L683.60,421.80" stroke="#0a0a0a" stroke-width="2.2" fill="none" stroke-linejoin="round"/>
<rect x="471.6" y="288.0" width="231.39999999999998" height="172.0" fill="none" stroke="#1e1e1e" stroke-width="1.05"/>
<path d="M471.6,303.03h1.8M703.0,303.03h-1.8M471.6,299.24h1.8M703.0,299.24h-1.8M471.6,296.56h1.8M703.0,296.56h-1.8M471.6,294.47h1.8M703.0,294.47h-1.8M471.6,292.77h1.8M703.0,292.77h-1.8M471.6,291.33h1.8M703.0,291.33h-1.8M471.6,290.08h1.8M703.0,290.08h-1.8M471.6,288.98h1.8M703.0,288.98h-1.8M471.6,309.5h3.4M703.0,309.5h-3.4M471.6,324.53h1.8M703.0,324.53h-1.8M471.6,320.74h1.8M703.0,320.74h-1.8M471.6,318.06h1.8M703.0,318.06h-1.8M471.6,315.97h1.8M703.0,315.97h-1.8M471.6,314.27h1.8M703.0,314.27h-1.8M471.6,312.83h1.8M703.0,312.83h-1.8M471.6,311.58h1.8M703.0,311.58h-1.8M471.6,310.48h1.8M703.0,310.48h-1.8M471.6,331.0h3.4M703.0,331.0h-3.4M471.6,346.03h1.8M703.0,346.03h-1.8M471.6,342.24h1.8M703.0,342.24h-1.8M471.6,339.56h1.8M703.0,339.56h-1.8M471.6,337.47h1.8M703.0,337.47h-1.8M471.6,335.77h1.8M703.0,335.77h-1.8M471.6,334.33h1.8M703.0,334.33h-1.8M471.6,333.08h1.8M703.0,333.08h-1.8M471.6,331.98h1.8M703.0,331.98h-1.8M471.6,352.5h3.4M703.0,352.5h-3.4M471.6,367.53h1.8M703.0,367.53h-1.8M471.6,363.74h1.8M703.0,363.74h-1.8M471.6,361.06h1.8M703.0,361.06h-1.8M471.6,358.97h1.8M703.0,358.97h-1.8M471.6,357.27h1.8M703.0,357.27h-1.8M471.6,355.83h1.8M703.0,355.83h-1.8M471.6,354.58h1.8M703.0,354.58h-1.8M471.6,353.48h1.8M703.0,353.48h-1.8M471.6,374.0h3.4M703.0,374.0h-3.4M471.6,389.03h1.8M703.0,389.03h-1.8M471.6,385.24h1.8M703.0,385.24h-1.8M471.6,382.56h1.8M703.0,382.56h-1.8M471.6,380.47h1.8M703.0,380.47h-1.8M471.6,378.77h1.8M703.0,378.77h-1.8M471.6,377.33h1.8M703.0,377.33h-1.8M471.6,376.08h1.8M703.0,376.08h-1.8M471.6,374.98h1.8M703.0,374.98h-1.8M471.6,395.5h3.4M703.0,395.5h-3.4M471.6,410.53h1.8M703.0,410.53h-1.8M471.6,406.74h1.8M703.0,406.74h-1.8M471.6,404.06h1.8M703.0,404.06h-1.8M471.6,401.97h1.8M703.0,401.97h-1.8M471.6,400.27h1.8M703.0,400.27h-1.8M471.6,398.83h1.8M703.0,398.83h-1.8M471.6,397.58h1.8M703.0,397.58h-1.8M471.6,396.48h1.8M703.0,396.48h-1.8M471.6,417.0h3.4M703.0,417.0h-3.4M471.6,432.03h1.8M703.0,432.03h-1.8M471.6,428.24h1.8M703.0,428.24h-1.8M471.6,425.56h1.8M703.0,425.56h-1.8M471.6,423.47h1.8M703.0,423.47h-1.8M471.6,421.77h1.8M703.0,421.77h-1.8M471.6,420.33h1.8M703.0,420.33h-1.8M471.6,419.08h1.8M703.0,419.08h-1.8M471.6,417.98h1.8M703.0,417.98h-1.8M471.6,438.5h3.4M703.0,438.5h-3.4M471.6,453.53h1.8M703.0,453.53h-1.8M471.6,449.74h1.8M703.0,449.74h-1.8M471.6,447.06h1.8M703.0,447.06h-1.8M471.6,444.97h1.8M703.0,444.97h-1.8M471.6,443.27h1.8M703.0,443.27h-1.8M471.6,441.83h1.8M703.0,441.83h-1.8M471.6,440.58h1.8M703.0,440.58h-1.8M471.6,439.48h1.8M703.0,439.48h-1.8" stroke="#1e1e1e" stroke-width="0.8" fill="none"/>
<path d="M494.74,460.0v-2.0M517.88,460.0v-3.2M541.02,460.0v-2.0M564.16,460.0v-3.2M587.3,460.0v-2.0M610.44,460.0v-3.2M633.58,460.0v-2.0M656.72,460.0v-3.2M679.86,460.0v-2.0M487.03,288.0v1.6M502.45,288.0v2.6M517.88,288.0v1.6M533.31,288.0v2.6M548.73,288.0v1.6M564.16,288.0v2.6M579.59,288.0v1.6M595.01,288.0v2.6M610.44,288.0v1.6M625.87,288.0v2.6M641.29,288.0v1.6M656.72,288.0v2.6M672.15,288.0v1.6M687.57,288.0v2.6" stroke="#1e1e1e" stroke-width="0.9" fill="none"/>
<text x="441.70" y="292.6" font-size="12.3" fill="#1a1a1a" font-family='"Liberation Serif", serif' stroke="#1a1a1a" stroke-width="0.32" letter-spacing="0.3">10</text>
<text x="455.70" y="289.00" font-size="7.7" fill="#1a1a1a" font-family='"Liberation Serif", serif' stroke="#1a1a1a" stroke-width="0.32" textLength="5.9" lengthAdjust="spacingAndGlyphs">−</text>
<text x="462.90" y="288.70" font-size="7.7" fill="#1a1a1a" font-family='"Liberation Serif", serif' stroke="#1a1a1a" stroke-width="0.32" letter-spacing="0.5">2</text>
<text x="441.70" y="333.8" font-size="12.3" fill="#1a1a1a" font-family='"Liberation Serif", serif' stroke="#1a1a1a" stroke-width="0.32" letter-spacing="0.3">10</text>
<text x="455.70" y="330.20" font-size="7.7" fill="#1a1a1a" font-family='"Liberation Serif", serif' stroke="#1a1a1a" stroke-width="0.32" textLength="5.9" lengthAdjust="spacingAndGlyphs">−</text>
<text x="462.90" y="329.90" font-size="7.7" fill="#1a1a1a" font-family='"Liberation Serif", serif' stroke="#1a1a1a" stroke-width="0.32" letter-spacing="0.5">4</text>
<text x="441.70" y="375.4" font-size="12.3" fill="#1a1a1a" font-family='"Liberation Serif", serif' stroke="#1a1a1a" stroke-width="0.32" letter-spacing="0.3">10</text>
<text x="455.70" y="371.80" font-size="7.7" fill="#1a1a1a" font-family='"Liberation Serif", serif' stroke="#1a1a1a" stroke-width="0.32" textLength="5.9" lengthAdjust="spacingAndGlyphs">−</text>
<text x="462.90" y="371.50" font-size="7.7" fill="#1a1a1a" font-family='"Liberation Serif", serif' stroke="#1a1a1a" stroke-width="0.32" letter-spacing="0.5">6</text>
<text x="441.70" y="417.2" font-size="12.3" fill="#1a1a1a" font-family='"Liberation Serif", serif' stroke="#1a1a1a" stroke-width="0.32" letter-spacing="0.3">10</text>
<text x="455.70" y="413.60" font-size="7.7" fill="#1a1a1a" font-family='"Liberation Serif", serif' stroke="#1a1a1a" stroke-width="0.32" textLength="5.9" lengthAdjust="spacingAndGlyphs">−</text>
<text x="462.90" y="413.30" font-size="7.7" fill="#1a1a1a" font-family='"Liberation Serif", serif' stroke="#1a1a1a" stroke-width="0.32" letter-spacing="0.5">8</text>
<text x="437.00" y="459.2" font-size="12.3" fill="#1a1a1a" font-family='"Liberation Serif", serif' stroke="#1a1a1a" stroke-width="0.32" letter-spacing="0.3">10</text>
<text x="451.00" y="455.60" font-size="7.7" fill="#1a1a1a" font-family='"Liberation Serif", serif' stroke="#1a1a1a" stroke-width="0.32" textLength="5.9" lengthAdjust="spacingAndGlyphs">−</text>
<text x="458.20" y="455.30" font-size="7.7" fill="#1a1a1a" font-family='"Liberation Serif", serif' stroke="#1a1a1a" stroke-width="0.32" letter-spacing="0.5">10</text>
<text x="456.82" y="473.7" font-size="12.4" fill="#1a1a1a" font-family='"Liberation Serif", serif' stroke="#1a1a1a" stroke-width="0.32" textLength="7.0" lengthAdjust="spacingAndGlyphs">−</text>
<text x="465.72" y="473.7" font-size="12.4" fill="#1a1a1a" font-family='"Liberation Serif", serif' stroke="#1a1a1a" stroke-width="0.32" letter-spacing="0.45">60</text>
<text x="503.62" y="473.7" font-size="12.4" fill="#1a1a1a" font-family='"Liberation Serif", serif' stroke="#1a1a1a" stroke-width="0.32" textLength="7.0" lengthAdjust="spacingAndGlyphs">−</text>
<text x="512.52" y="473.7" font-size="12.4" fill="#1a1a1a" font-family='"Liberation Serif", serif' stroke="#1a1a1a" stroke-width="0.32" letter-spacing="0.45">45</text>
<text x="550.92" y="473.7" font-size="12.4" fill="#1a1a1a" font-family='"Liberation Serif", serif' stroke="#1a1a1a" stroke-width="0.32" textLength="7.0" lengthAdjust="spacingAndGlyphs">−</text>
<text x="559.82" y="473.7" font-size="12.4" fill="#1a1a1a" font-family='"Liberation Serif", serif' stroke="#1a1a1a" stroke-width="0.32" letter-spacing="0.45">30</text>
<text x="597.92" y="473.7" font-size="12.4" fill="#1a1a1a" font-family='"Liberation Serif", serif' stroke="#1a1a1a" stroke-width="0.32" textLength="7.0" lengthAdjust="spacingAndGlyphs">−</text>
<text x="606.82" y="473.7" font-size="12.4" fill="#1a1a1a" font-family='"Liberation Serif", serif' stroke="#1a1a1a" stroke-width="0.32" letter-spacing="0.45">15</text>
<text x="652.10" y="473.7" font-size="12.4" fill="#1a1a1a" font-family='"Liberation Serif", serif' stroke="#1a1a1a" stroke-width="0.32" letter-spacing="0.45">0</text>
<text x="696.38" y="473.7" font-size="12.4" fill="#1a1a1a" font-family='"Liberation Serif", serif' stroke="#1a1a1a" stroke-width="0.32" letter-spacing="0.45">15</text>
<line x1="608" y1="305.9" x2="628" y2="305.9" stroke="#22e32e" stroke-width="2.4" />
<line x1="608" y1="318.6" x2="628" y2="318.6" stroke="#0a0a0a" stroke-width="1.9" />
<text x="632" y="310.2" font-size="12.0" fill="#1a1a1a" font-family='"Liberation Serif", serif' textLength="49" lengthAdjust="spacing" stroke="#1a1a1a" stroke-width="0.32">Forward</text>
<text x="632" y="322.2" font-size="12.0" fill="#1a1a1a" font-family='"Liberation Serif", serif' textLength="45" lengthAdjust="spacing" stroke="#1a1a1a" stroke-width="0.32">Reverse</text>
<text x="419.5" y="296.6" font-size="12.3" fill="#1a1a1a" font-family='"Liberation Serif", serif' textLength="16.4" lengthAdjust="spacing" stroke="#1a1a1a" stroke-width="0.32">(d)</text>
<text x="570.2" y="494.2" font-size="12.4" fill="#1a1a1a" font-family='"Liberation Serif", serif' textLength="36" lengthAdjust="spacing" stroke="#1a1a1a" stroke-width="0.32"><tspan font-style="italic">V</tspan><tspan dy="1.8" font-size="8.6">GS</tspan><tspan dy="-1.8">/V</tspan></text>
<text x="430.3" y="384.3" font-size="12.4" fill="#1a1a1a" font-family='"Liberation Serif", serif' textLength="33" lengthAdjust="spacing" transform="rotate(-90 430.3 384.3)" stroke="#1a1a1a" stroke-width="0.32"><tspan font-style="italic">I</tspan><tspan dy="1.8" font-size="8.6">DS</tspan><tspan dy="-1.8">/A</tspan></text>
</svg>
</body></html>
